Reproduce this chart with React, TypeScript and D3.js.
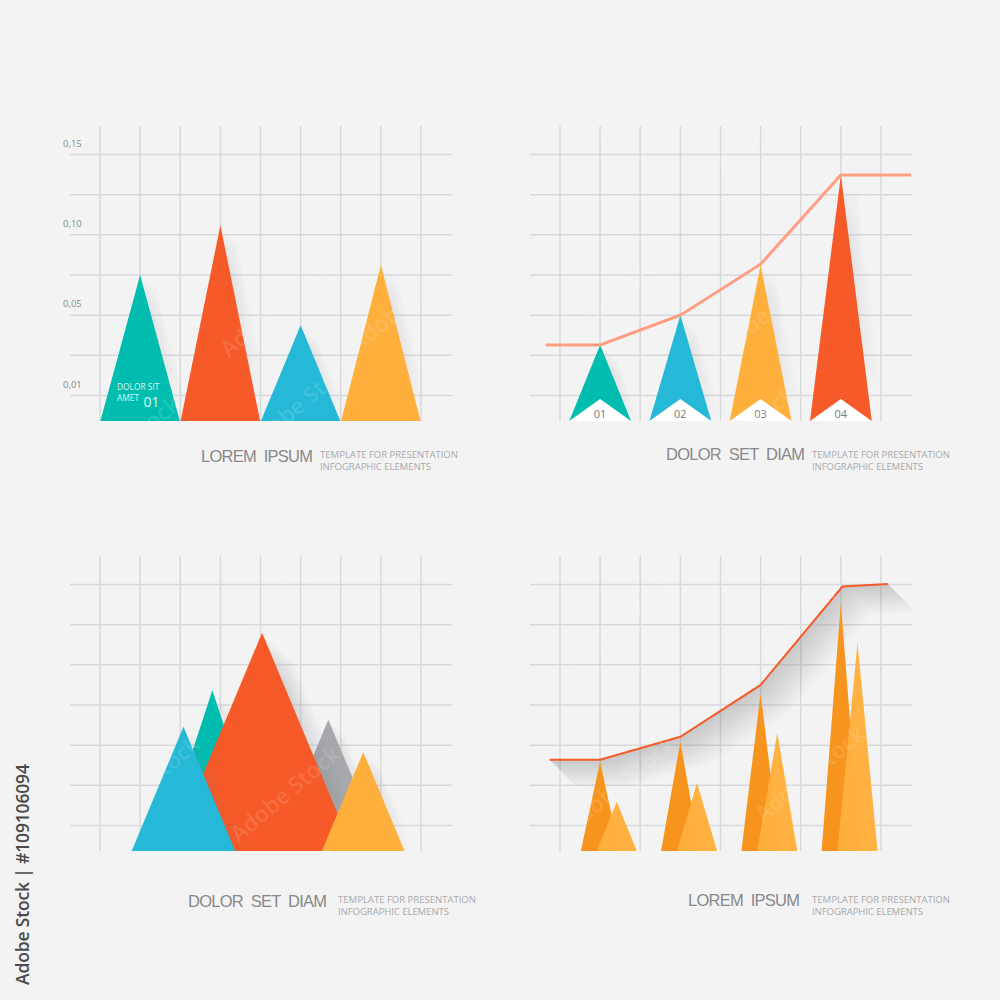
import React from 'react';
import * as d3 from 'd3';

// all values below are in grid units
const gridColumns = d3.range(0, 9);
const gridRows = d3.range(0, 7);
const axisLabels = [
  { row: 6, label: '0,15' },
  { row: 4, label: '0,10' },
  { row: 2, label: '0,05' },
  { row: 0, label: '0,01' },
];

const palette = { teal: '#00bdb0', orange: '#f55a28', blue: '#25b9d7', yellow: '#ffb03c', gray: '#a7a8ac', amber: '#f7941e' };

const barCenters = [1, 3, 5, 7];
const firstPeaks = [3, 4.24, 1.75, 3.25];
const firstColors = [palette.teal, palette.orange, palette.blue, palette.yellow];

const arrowPeaks = [1.26, 2, 3.25, 5.49];
const arrowColors = [palette.teal, palette.blue, palette.yellow, palette.orange];
const arrowLabels = ['01', '02', '03', '04'];
const arrowLineX = [-0.35, 1, 3, 5, 7, 8.75];
const arrowLineY = [1.26, 1.26, 2, 3.27, 5.49, 5.49];

// drawn back to front
const mountainCenters = [2.8, 5.69, 4.04, 2.08, 6.56];
const mountainWidths = [1.31, 1.37, 2.27, 1.29, 1.03];
const mountainPeaks = [3.37, 2.63, 4.8, 2.46, 1.83];
const mountainColors = [palette.teal, palette.gray, palette.orange, palette.blue, palette.yellow];

const tallPeaks = [1.59, 2.09, 3.29, 5.54];
const shortPeaks = [0.59, 1.06, 2.3, 4.54];
const pairLineX = [-0.26, 1, 3, 5, 7.04, 8.17];
const pairLineY = [1.64, 1.64, 2.21, 3.5, 5.95, 6.01];

const watermarks = [
  [108, 122], [238, 150], [445, 130], [570, 172], [775, 130], [905, 178],
  [280, 315], [75, 320], [410, 310], [615, 305], [770, 320], [940, 310],
  [130, 450], [450, 470], [305, 410], [580, 490], [745, 440], [915, 430],
  [245, 520], [85, 650], [280, 605], [420, 650], [625, 630], [785, 640], [940, 640], [610, 510], [790, 500],
  [150, 790], [290, 800], [460, 790], [625, 790], [815, 780], [940, 820],
  [110, 945], [300, 945], [455, 945], [640, 945], [790, 945], [940, 945],
];

const baseRow = -0.635;
const x = d3.scaleLinear().domain([0, 8]).range([100, 421]);
const y = d3.scaleLinear().domain([0, 6]).range([395.5, 154.5]);
const baseY = y(baseRow);

const outline = d3.line<[number, number]>().x(d => x(d[0])).y(d => y(d[1]));
const triangle = (c: number, w: number, peak: number) =>
  outline([[c - w, baseRow], [c, peak], [c + w, baseRow]]) + 'Z';
const chevron = (c: number, w: number) =>
  outline([[c - w, baseRow], [c, -0.09], [c + w, baseRow]]) + 'Z';

// long flat shadow: same shape pushed down-right in thin layers, fading downwards
const LongShadow: React.FC<{ d: string; reach: number; clip: string }> = ({ d, reach, clip }) => (
  <g clipPath={`url(#${clip})`}>
    {d3.range(2, reach + 1, 2).map(o => (
      <path key={o} d={d} transform={`translate(${o},${o * 0.9})`} fill="url(#shadowFade)" />
    ))}
  </g>
);

const Grid: React.FC = () => (
  <g stroke="#d8d9db" strokeWidth={1.5}>
    {gridRows.map(r => <line key={r} x1={70} x2={452} y1={y(r)} y2={y(r)} />)}
    {gridColumns.map(c => <line key={c} x1={x(c)} x2={x(c)} y1={126} y2={baseY} />)}
  </g>
);

const Caption: React.FC<{ title: string; titleX: number; titleWidth: number; titleY: number; subX: number; subY: number }> = ({ title, titleX, titleWidth, titleY, subX, subY }) => (
  <g>
    <text x={titleX} y={titleY} textLength={titleWidth} fontFamily="Liberation Sans" fontSize={16.5} fill="#87888b" style={{ wordSpacing: 4 }}>{title}</text>
    <text x={subX} y={subY} textLength={138} fontFamily="Open Sans" fontSize={9.6} fill="#a9aaac">TEMPLATE FOR PRESENTATION</text>
    <text x={subX} y={subY + 12} textLength={111} fontFamily="Open Sans" fontSize={9.6} fill="#a9aaac">INFOGRAPHIC ELEMENTS</text>
  </g>
);

const ClipDef: React.FC<{ id: string }> = ({ id }) => (
  <clipPath id={id}><rect x={40} y={100} width={460} height={baseY - 100} /></clipPath>
);

const FirstPanel: React.FC = () => (
  <g>
    <ClipDef id="clip1" />
    <Grid />
    {axisLabels.map(a => (
      <text key={a.label} x={63} y={y(a.row) - 8} fontFamily="Open Sans" fontSize={9.5} fill="#88898c">{a.label}</text>
    ))}
    {barCenters.map((c, i) => (
      <g key={c}>
        <LongShadow d={triangle(c, 0.99, firstPeaks[i])} reach={16} clip="clip1" />
        <path d={triangle(c, 0.99, firstPeaks[i])} fill={firstColors[i]} />
      </g>
    ))}
    <g fontFamily="Open Sans" fill="#d8f6f0">
      <text x={117} y={390} fontSize={8.4}>DOLOR SIT</text>
      <text x={117} y={401} fontSize={8.4}>AMET</text>
      <text x={143.5} y={407} fontSize={14}>01</text>
    </g>
    <Caption title="LOREM IPSUM" titleX={201} titleWidth={112} titleY={462} subX={320} subY={458} />
  </g>
);

const ArrowPanel: React.FC = () => (
  <g transform="translate(460,0)">
    <ClipDef id="clip2" />
    <Grid />
    {barCenters.map((c, i) => (
      <g key={c}>
        <LongShadow d={triangle(c, 0.77, arrowPeaks[i])} reach={16} clip="clip2" />
        <path d={triangle(c, 0.77, arrowPeaks[i])} fill={arrowColors[i]} />
        <path d={chevron(c, 0.77)} fill="#ffffff" />
        <text x={x(c)} y={418} textAnchor="middle" fontFamily="Open Sans" fontSize={11} fill="#77787b">{arrowLabels[i]}</text>
      </g>
    ))}
    <path
      d={d3.line<number>().x(v => x(v)).y((_, i) => y(arrowLineY[i]))(arrowLineX) as string}
      fill="none" stroke="#ff9e80" strokeWidth={3}
    />
    <Caption title="DOLOR SET DIAM" titleX={206} titleWidth={139} titleY={460} subX={352} subY={458} />
  </g>
);

const MountainPanel: React.FC = () => (
  <g transform="translate(0,430)">
    <ClipDef id="clip3" />
    <Grid />
    {mountainCenters.map((c, i) => (
      <g key={c}>
        <LongShadow d={triangle(c, mountainWidths[i], mountainPeaks[i])} reach={i === 2 ? 30 : 16} clip="clip3" />
        <path d={triangle(c, mountainWidths[i], mountainPeaks[i])} fill={mountainColors[i]} />
      </g>
    ))}
    <Caption title="DOLOR SET DIAM" titleX={188} titleWidth={139} titleY={477} subX={338} subY={473} />
  </g>
);

const PairPanel: React.FC = () => {
  const points = pairLineX.map((v, i) => [x(v), y(pairLineY[i])] as [number, number]);
  const band = (o: number) =>
    [...points, ...points.slice().reverse().map(p => [p[0] + o, p[1] + o] as [number, number])];
  return (
    <g transform="translate(460,430)">
      <ClipDef id="clip4" />
      <Grid />
      {d3.range(2, 29, 2).map(o => (
        <path key={o} d={(d3.line()(band(o)) as string) + 'Z'} fill="#5d6064" fillOpacity={0.021} />
      ))}
      {barCenters.map((c, i) => (
        <path key={c} d={triangle(c, 0.48, tallPeaks[i])} fill={palette.amber} />
      ))}
      {barCenters.map((c, i) => (
        <path key={c} d={triangle(c + 0.415, 0.5, shortPeaks[i])} fill={palette.yellow} fillOpacity={0.97} />
      ))}
      <path d={d3.line()(points) as string} fill="none" stroke="#f55a28" strokeWidth={2} />
      <Caption title="LOREM IPSUM" titleX={228} titleWidth={112} titleY={476} subX={352} subY={473} />
    </g>
  );
};

export default function App() {
  return (
    <svg width={1000} height={1000} viewBox="0 0 1000 1000" style={{ position: 'absolute', left: 0, top: 0, display: 'block' }}>
      <defs>
        <linearGradient id="shadowFade" x1="0" y1="0" x2="0" y2="1">
          <stop offset="0%" stopColor="#6d7074" stopOpacity={0.02} />
          <stop offset="60%" stopColor="#6d7074" stopOpacity={0.01} />
          <stop offset="90%" stopColor="#6d7074" stopOpacity={0} />
        </linearGradient>
      </defs>
      <rect width={1000} height={1000} fill="#f3f3f3" />
      <FirstPanel />
      <ArrowPanel />
      <MountainPanel />
      <PairPanel />
      <g fontFamily="Open Sans" fontSize={30} fontWeight={600} textAnchor="middle" fill="#ffffff" fillOpacity={0.13}>
        {watermarks.map(([wx, wy]) => (
          <text key={`${wx}-${wy}`} transform={`translate(${wx},${wy}) rotate(-40) scale(0.75)`}>Adobe Stock</text>
        ))}
      </g>
      <text transform="translate(29,985) rotate(-90)" textLength={221} fontFamily="Open Sans" fontSize={17.5} fontWeight={600} fill="#4a4a4c">Adobe Stock | #109106094</text>
    </svg>
  );
}
